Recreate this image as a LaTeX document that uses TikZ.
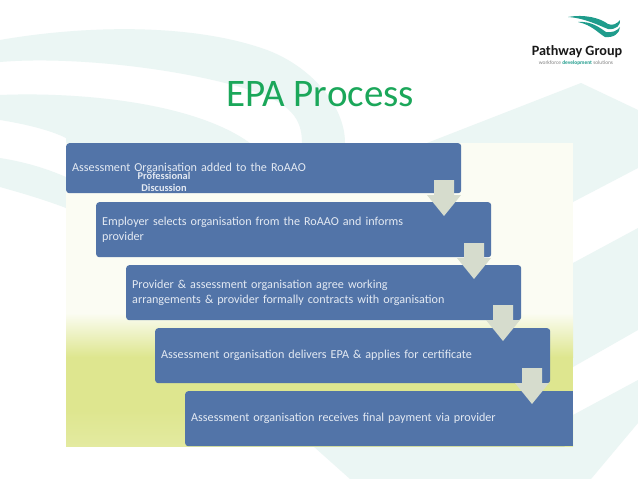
\documentclass[tikz,border=0pt]{standalone}
\usepackage{fontspec}
\setmainfont{Carlito}
\usetikzlibrary{positioning, calc}
\definecolor{swoosh}{HTML}{EBF6F4}
\definecolor{cream}{HTML}{FBFCF3}
\definecolor{lime}{HTML}{DEE68F}
\definecolor{boxblue}{HTML}{5274A8}
\definecolor{boxtext}{HTML}{E4EAF3}
\definecolor{arrowfill}{HTML}{D6DCCD}
\definecolor{titlegreen}{HTML}{1BA75A}
\definecolor{logoteal}{HTML}{1F9C8C}
\tikzset{
    stepbox/.style={anchor=north west, fill=boxblue, text=boxtext, rounded corners=3pt, minimum height=55pt, text width=383pt, inner xsep=6pt, inner ysep=0pt, align=left, font=\fontsize{12.15}{14.3}\selectfont},
    blockarrow/.style={fill=arrowfill},
    logoband/.style={fill=logoteal}
}
\begin{document}
\begin{tikzpicture}[x=1pt, y=-1pt]
    \useasboundingbox (0,0) rectangle (638,479);
    \fill[white] (0,0) rectangle (638,479);
    % background swooshes
    \fill[swoosh] (0,40) .. controls (80,26) and (190,22) .. (267,50) .. controls (310,66) and (345,105) .. (345,143) -- (302,143) .. controls (302,118) and (290,103) .. (250,90) .. controls (180,68) and (70,56) .. (0,62) -- cycle;
    \fill[swoosh] (0,95) .. controls (70,92) and (190,100) .. (250,143) -- (66,143) -- (66,138) .. controls (50,130) and (25,124) .. (0,120) -- cycle;
    \fill[swoosh] (0,158) .. controls (25,162) and (45,168) .. (66,177) -- (66,208) .. controls (45,200) and (25,194) .. (0,187) -- cycle;
    \fill[swoosh] (427,143) -- (581,83) -- (638,110) -- (638,168) -- (573,202) -- (573,143) -- cycle;
    \fill[swoosh] (573,263) -- (638,228) -- (638,330) -- (573,367) -- cycle;
    \fill[swoosh] (573,415) -- (638,380) -- (638,423) -- (591,479) -- (350,479) -- (313,446) -- (573,446) -- cycle;
    % panel
    \fill[cream] (66,143) rectangle (573,313);
    \shade[top color=cream, bottom color=lime] (66,313) rectangle (573,357);
    \fill[lime] (66,357) rectangle (573,410);
    \shade[top color=lime, bottom color=lime!85!white] (66,410) rectangle (573,446);
    % title
    \node[anchor=base, text=titlegreen, font=\fontsize{39}{41}\selectfont] (title) at (320,106) {EPA Process};
    % logo
    \fill[logoband] (568,17) .. controls (585,14) and (600,18) .. (608,24) .. controls (612,26) and (617,24) .. (620,20) .. controls (621,25) and (616,30) .. (608,29) .. controls (600,26) and (585,18) .. (568,17) -- cycle;
    \fill[logoband] (578,22) .. controls (592,21) and (600,28) .. (606,32) .. controls (612,33) and (617,31) .. (620,27) .. controls (620,33) and (614,38) .. (605,37) .. controls (598,33) and (592,25) .. (578,22) -- cycle;
    \node[anchor=base, font=\bfseries\fontsize{14.2}{16}\selectfont, text=black!90] (logoname) at (577,55) {Pathway Group};
    \node[anchor=base, font=\fontsize{5.4}{6}\selectfont, text=black!50] (logotag) at (576,64) {workforce \textcolor{logoteal}{\textbf{development}} solutions};
    % steps
    \fill[boxblue] (300,391) rectangle (573,446);
    \node[stepbox, minimum height=50pt] (stepa) at (66,143) {Assessment Organisation added to the RoAAO};
    \node[stepbox] (stepb) at (96,202) {Employer selects organisation from the RoAAO and informs\\provider};
    \node[stepbox] (stepc) at (126,265) {Provider \& assessment organisation agree working\\arrangements \& provider formally contracts with organisation};
    \node[stepbox] (stepd) at (155,328) {Assessment organisation delivers EPA \& applies for certificate};
    \node[stepbox, text width=370pt] (stepe) at (185,391) {Assessment organisation receives final payment via provider};
    \node[text=boxtext, align=center, inner sep=0pt, font=\bfseries\fontsize{10.4}{11.5}\selectfont] (extra) at (164,182) {Professional\\Discussion};
    % arrows
    \foreach \x/\y in {444/180, 474/243, 503/305, 532/368} {
        \fill[blockarrow] (\x-10,\y) -- (\x+10,\y) -- (\x+10,\y+15) -- (\x+17,\y+15) -- (\x,\y+36) -- (\x-17,\y+15) -- (\x-10,\y+15) -- cycle;
    }
\end{tikzpicture}
\end{document}
